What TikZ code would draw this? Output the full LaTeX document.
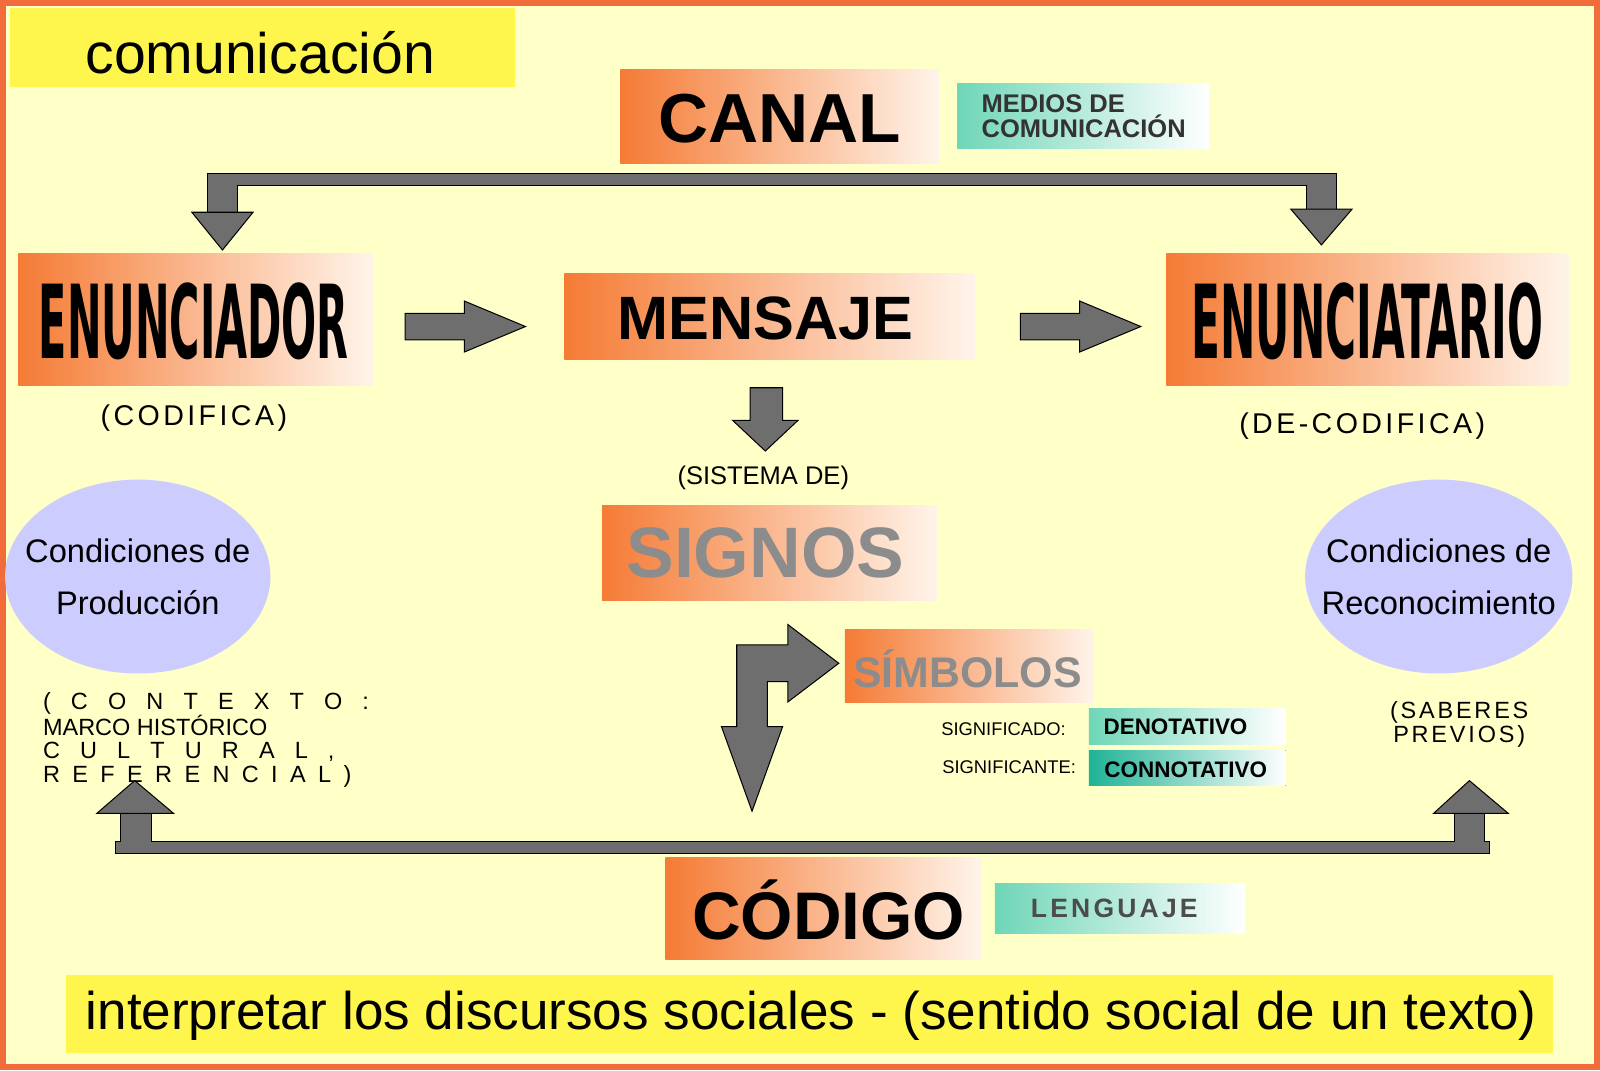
\documentclass[tikz,border=0pt]{standalone}
\usepackage{fontspec}
\setmainfont{Liberation Sans}
\newfontfamily\condf{DejaVu Sans Condensed}
\newfontfamily\spacedf[LetterSpace=12]{Liberation Sans}
\newfontfamily\rspacedf[LetterSpace=25]{Liberation Sans}
\newfontfamily\wspacedf[LetterSpace=58]{Liberation Sans}
\usetikzlibrary{shapes.geometric}
\definecolor{bgy}{HTML}{FFFFC8}
\definecolor{frameo}{HTML}{F26B3A}
\definecolor{oran}{HTML}{F57B35}
\definecolor{lt}{HTML}{FFF4EA}
\definecolor{teal1}{HTML}{6FD6B8}
\definecolor{teal2}{HTML}{1FB396}
\definecolor{lil}{HTML}{CCCCFF}
\definecolor{arrg}{HTML}{6E6E6E}
\tikzset{
  obox/.style={left color=oran,right color=lt,draw=none,inner sep=0},
  tbox/.style={left color=teal1,right color=white,draw=none,inner sep=0},
  blk/.style={fill=arrg,draw=black,line width=1pt},
  ybox/.style={fill=yellow!70!white,draw=none},
  elltext/.style={align=center,font=\fs{32}\linespread{1.6}\selectfont},
}
\newcommand{\fs}[1]{\fontsize{#1}{#1}\selectfont}
\begin{document}
\begin{tikzpicture}[x=1pt,y=-1pt]
\useasboundingbox (0,0) rectangle (1568,1049);
\fill[frameo] (0,0) rectangle (1568,1049);
\fill[bgy] (6,6) rectangle (1562,1043);
% title
\fill[ybox] (10,8) rectangle (505,85);
\node (title) at (255,52) {\fs{56}comunicación};
% canal
\shade[obox] (608,68) rectangle (920,160);
\node (canal) at (764,116) {\fs{68}\bfseries CANAL};
\shade[tbox] (938,82) rectangle (1185,146);
\node[align=left,text=black!80,font=\fs{25}\bfseries] (medios) at (1062,114) {MEDIOS DE\\COMUNICACIÓN};
% top bar
\draw[blk] (203,208)--(203,170)--(1310,170)--(1310,205)--(1280,205)--(1280,182)--(233,182)--(233,208)--cycle;
\draw[blk] (188,208)--(248,208)--(218,245)--cycle;
\draw[blk] (1265,205)--(1325,205)--(1295,240)--cycle;
% row
\shade[obox] (18,248) rectangle (365,378);
\node[yscale=2,xscale=0.9] (enunciador) at (190,315) {\condf\fs{50}\bfseries ENUNCIADOR};
\shade[obox] (553,268) rectangle (955,352);
\node (mensaje) at (750,312) {\fs{60}\bfseries MENSAJE};
\shade[obox] (1143,248) rectangle (1538,378);
\node[yscale=2,xscale=0.92] (enunciatario) at (1340,315) {\condf\fs{50}\bfseries ENUNCIATARIO};
\draw[blk] (397,307)--(455,307)--(455,295)--(515,320)--(455,345)--(455,333)--(397,333)--cycle;
\draw[blk] (1000,307)--(1058,307)--(1058,295)--(1118,320)--(1058,345)--(1058,333)--(1000,333)--cycle;
\node (cod) at (190,410) {\spacedf\fs{28}(CODIFICA)};
\node (decod) at (1335,418) {\spacedf\fs{28}(DE-CODIFICA)};
\draw[blk] (735,380)--(767,380)--(767,412)--(782,412)--(750,442)--(718,412)--(735,412)--cycle;
\node (sist) at (748,468) {\fs{25}(SISTEMA DE)};
\shade[obox] (590,495) rectangle (918,588);
\node[text=black!45] (signos) at (750,542) {\fs{70}\bfseries SIGNOS};
% ellipses
\fill[lil] (135,565) ellipse [x radius=130, y radius=95];
\node[elltext] (prod) at (135,565) {Condiciones de\\Producción};
\fill[lil] (1410,565) ellipse [x radius=131, y radius=95];
\node[elltext] (recon) at (1410,565) {Condiciones de\\Reconocimiento};
% bent arrow
\draw[blk] (722,712)--(722,632)--(772,632)--(772,612)--(822,650)--(772,688)--(772,668)--(752,668)--(752,712)--(767,712)--(737,795)--(707,712)--cycle;
\shade[obox] (828,617) rectangle (1072,688);
\node[text=black!45] (simb) at (948,655) {\fs{42}\bfseries SÍMBOLOS};
\node[anchor=east] (signif) at (1048,715) {\fs{18}SIGNIFICADO:};
\node[anchor=east] (signte) at (1058,752) {\fs{18}SIGNIFICANTE:};
\shade[tbox] (1067,694) rectangle (1260,730);
\node (denot) at (1152,712) {\fs{22}\bfseries DENOTATIVO};
\fill[left color=teal2,right color=white] (1067,735) rectangle (1260,770);
\node (connot) at (1162,754) {\fs{22}\bfseries CONNOTATIVO};
% context
\node[anchor=north west,align=left,font=\fs{23},inner sep=0] (ctx) at (42,678) {{\wspacedf( C O N T E X T O :}\\MARCO HISTÓRICO\\{\wspacedf C U L T U R A L ,}\\{\rspacedf R E F E R E N C I A L )}};
\node[align=center,font=\spacedf\fs{23}] (sab) at (1430,710) {(SABERES\\PREVIOS)};
% bottom bar
\draw[blk] (118,797)--(118,825)--(113,825)--(113,836)--(1460,836)--(1460,825)--(1455,825)--(1455,797)--(1425,797)--(1425,825)--(148,825)--(148,797)--cycle;
\draw[blk] (95,797)--(170,797)--(132,765)--cycle;
\draw[blk] (1405,797)--(1478,797)--(1440,765)--cycle;
\shade[obox] (652,840) rectangle (962,940);
\node (codigo) at (812,892) {\fs{66}\bfseries CÓDIGO};
\shade[tbox] (975,866) rectangle (1220,915);
\node[text=black!70] (leng) at (1092,890) {\spacedf\fs{26}\bfseries LENGUAJE};
\fill[ybox] (65,955) rectangle (1522,1032);
\node (interp) at (795,995) {\fs{52}interpretar los discursos sociales - (sentido social de un texto)};
\end{tikzpicture}
\end{document}
